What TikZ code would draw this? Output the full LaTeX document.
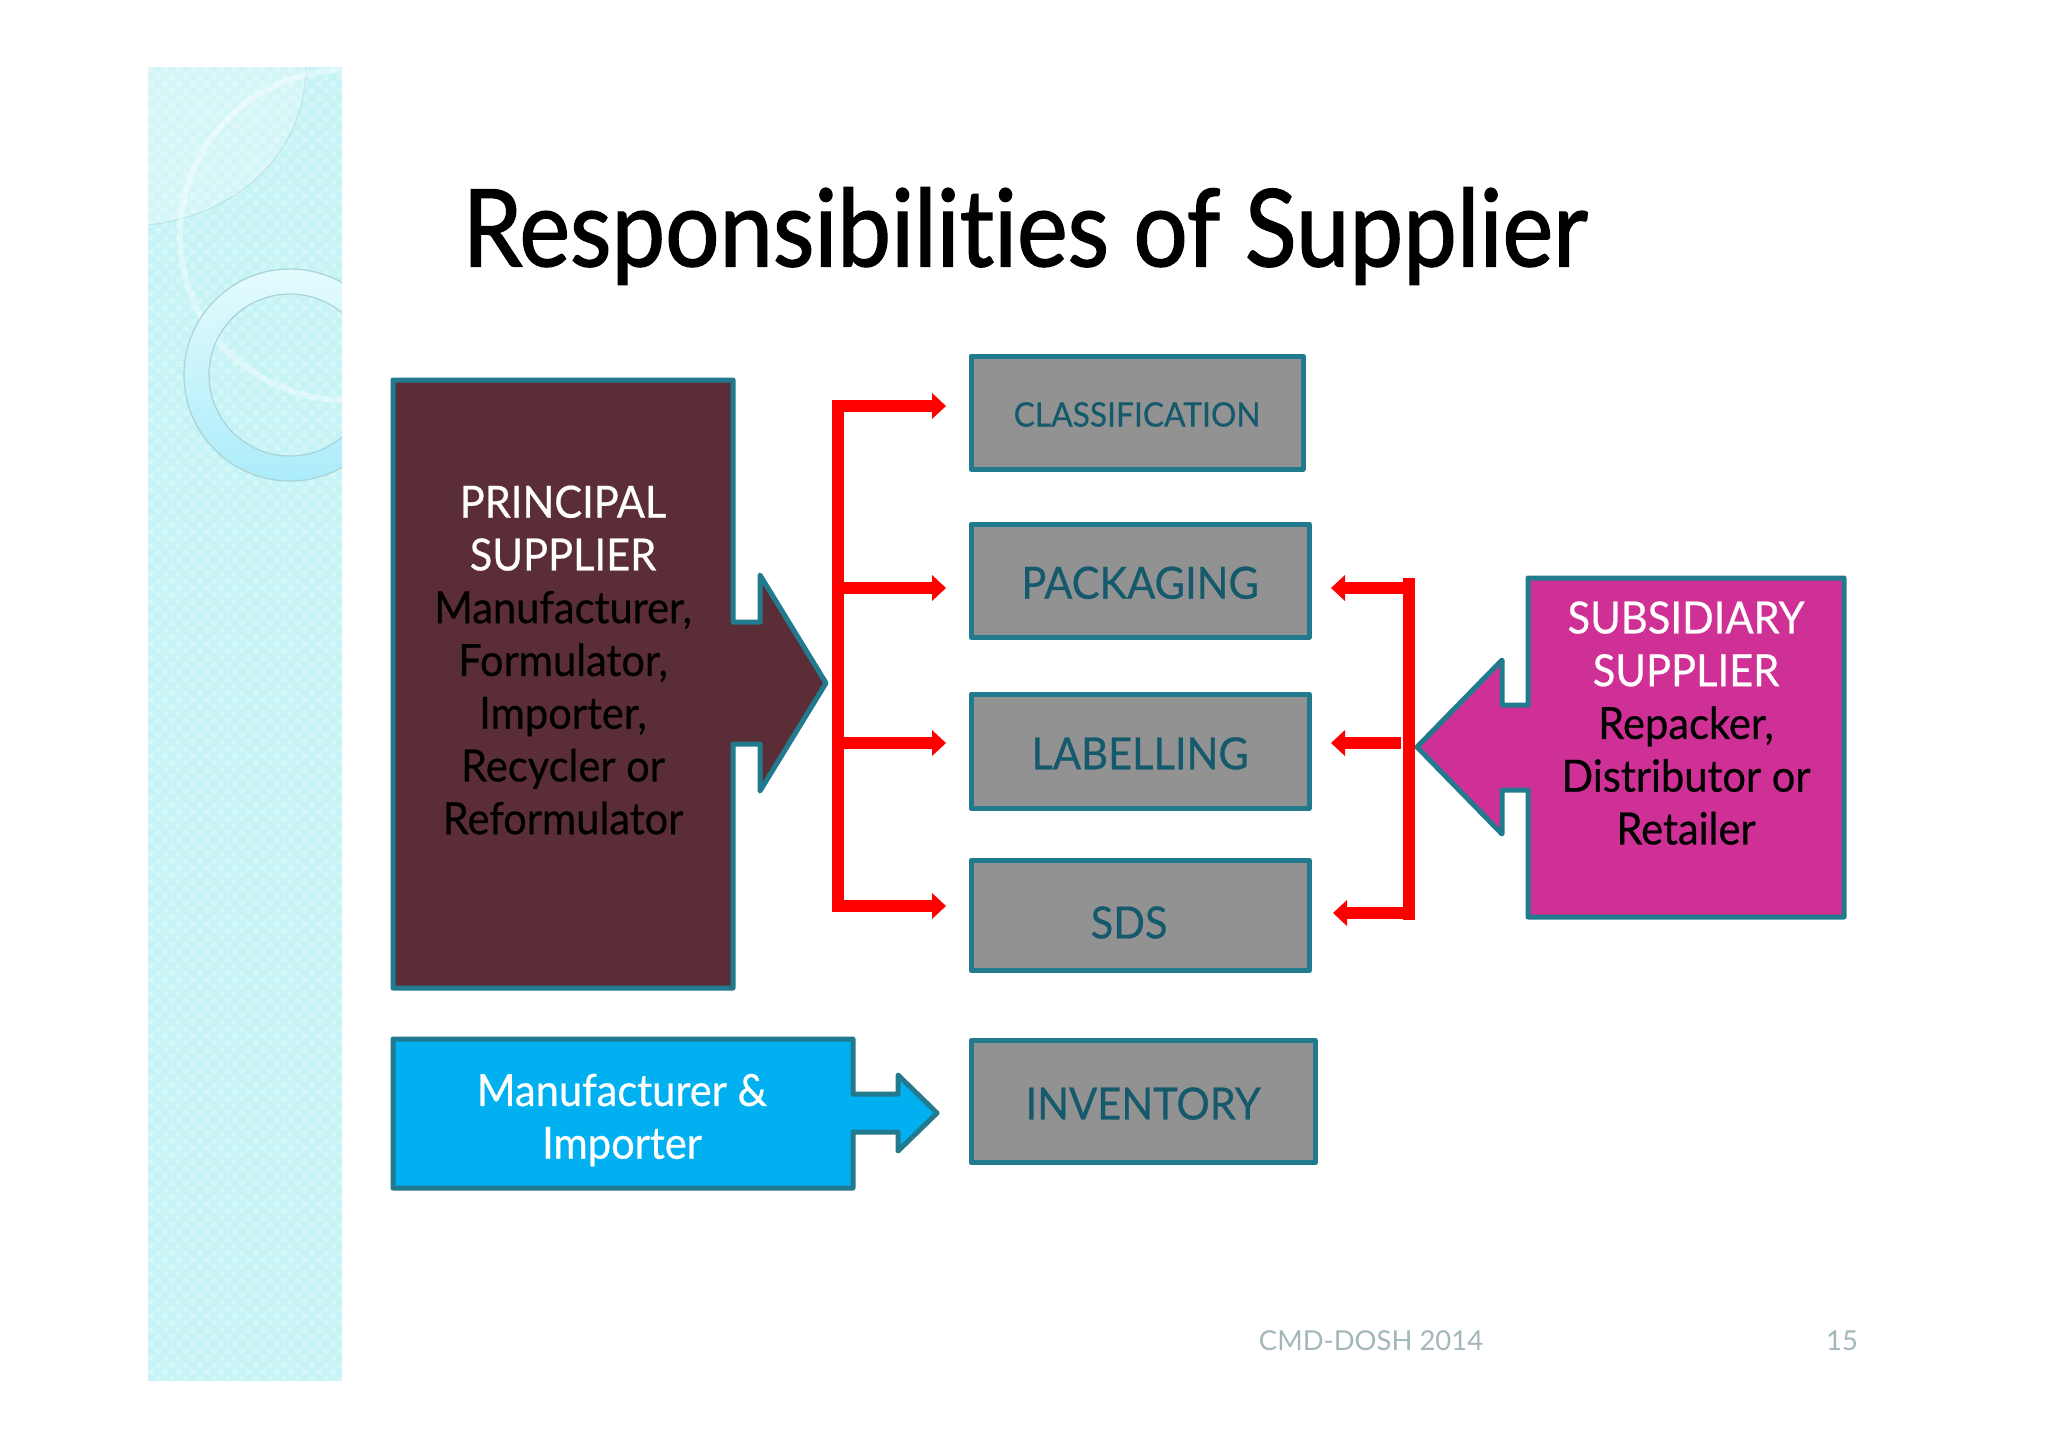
\documentclass[tikz,border=0pt]{standalone}
\usepackage{fontspec}
\setmainfont{Lato}[FakeStretch=0.94,FakeBold=0.5,Ligatures=NoCommon]
\newfontfamily\titlefont{Lato}[FakeStretch=0.893,FakeBold=1.3,Ligatures=NoCommon]
\newfontfamily\footfont{Lato}
\usetikzlibrary{positioning}

\definecolor{panelcyan}{HTML}{C6F3F5}
\definecolor{panellight}{HTML}{DFFAFA}
\definecolor{ringtop}{HTML}{E4FBFD}
\definecolor{ringbottom}{HTML}{ACECFA}
\definecolor{ringedge}{HTML}{A9D3D9}
\definecolor{tealedge}{HTML}{217A8E}
\definecolor{tealtext}{HTML}{14596C}
\definecolor{boxgrey}{HTML}{929292}
\definecolor{maroonfill}{HTML}{5A2D37}
\definecolor{magentafill}{HTML}{CF3095}
\definecolor{skyfill}{HTML}{00B0F0}
\definecolor{footgrey}{HTML}{A3B7BA}

\tikzset{
  outline/.style = { draw = tealedge, line width = .05cm, line join = round },
  block/.style = { align = center, font = \fontsize{12.6}{15}\selectfont, inner sep = 0pt },
  stepbox/.style = { outline, fill = boxgrey, text = tealtext, anchor = north west, outer sep = 0pt, inner sep = 0pt,
    font = \fontsize{12.6}{15}\selectfont, text height = .36cm, text depth = 0pt },
  bus/.style = { draw = red, line width = .12cm },
  branch/.style = { bus, shorten > = .12cm }
}
% arrowhead at the end of a red branch: macro takes tip coordinate and direction
\newcommand{\redhead}[2]{\fill [red, line join = round] (#1) -- ++(#2*-14,13) -- ++(0,-26) -- cycle;}

\begin{document}
\begin{tikzpicture}[x = .01cm, y = -.01cm]
  \useasboundingbox (0,0) rectangle (2048,1447);

  % side panel
  \begin{scope}
    \clip (148,67) rectangle (342,1381);
    \fill [panelcyan] (148,67) rectangle (342,1381);
    \foreach \row in {0,...,187} {
      \pgfmathsetmacro{\shift}{7*mod(\row,2)}
      \foreach \col in {0,...,13} {
        \fill [panellight, opacity = .55] (148+\col*14+\shift,67+\row*7) rectangle ++(6,6);
      }
    }
    \fill [white, opacity = .25] (148,67) -- (306,67) .. controls (306,150) and (240,215) .. (148,225) -- cycle;
    \draw [ringedge, opacity = .5, line width = .01cm] (306,67) .. controls (306,150) and (240,215) .. (148,225);
    \draw [white, opacity = .4, line width = .06cm] (345,235) circle (165);
    \shade [top color = ringtop, bottom color = ringbottom, even odd rule] (290,375) circle (106) (290,375) circle (81);
    \draw [ringedge, line width = .012cm] (290,375) circle (106) (290,375) circle (81);
  \end{scope}

  \node [font = \titlefont\fontsize{30.5}{36}\selectfont, inner sep = 0pt] (title) at (1025,236) { Responsibilities of Supplier };

  % left block with its arrow
  \draw [outline, fill = maroonfill] (393,380) -- (733,380) -- (733,622) -- (760,622) -- (760,575) -- (826,683) -- (760,791) -- (760,744) -- (733,744) -- (733,988) -- (393,988) -- cycle;
  \node [block, text = black] (principal) at (563,660) { \textcolor{white}{PRINCIPAL} \\ \textcolor{white}{SUPPLIER} \\ Manufacturer, \\ Formulator, \\ Importer, \\ Recycler or \\ Reformulator };

  % right block with its arrow
  \draw [outline, fill = magentafill] (1844,578) -- (1528,578) -- (1528,705) -- (1502,705) -- (1502,660) -- (1417,747) -- (1502,834) -- (1502,790) -- (1528,790) -- (1528,917) -- (1844,917) -- cycle;
  \node [block, text = black] (subsidiary) at (1686,723) { \textcolor{white}{SUBSIDIARY} \\ \textcolor{white}{SUPPLIER} \\ Repacker, \\ Distributor or \\ Retailer };

  % lower block with its arrow
  \draw [outline, fill = skyfill] (393,1039) -- (853,1039) -- (853,1094) -- (898,1094) -- (898,1075) -- (937,1113) -- (898,1151) -- (898,1132) -- (853,1132) -- (853,1188) -- (393,1188) -- cycle;
  \node [block, text = white] (manufacturer) at (622,1120) { Manufacturer \& \\ Importer };

  % grey steps
  \node [stepbox, minimum width = 3.32cm, minimum height = 1.13cm, font = \fontsize{9.6}{12}\selectfont, text height = .28cm] (classification) at (971,356) { CLASSIFICATION };
  \node [stepbox, minimum width = 3.38cm, minimum height = 1.13cm, below = .55cm of classification.south west, anchor = north west] (packaging) { PACKAGING };
  \node [stepbox, minimum width = 3.38cm, minimum height = 1.14cm, below = .57cm of packaging.south west, anchor = north west] (labelling) { LABELLING };
  \node [stepbox, minimum width = 3.38cm, minimum height = 1.10cm, text height = .46cm, below = .52cm of labelling.south west, anchor = north west] (sds) { SDS\hspace*{.22cm} };
  \node [stepbox, minimum width = 3.44cm, minimum height = 1.22cm, below = .70cm of sds.south west, anchor = north west] (inventory) { INVENTORY };

  % red branches on the left
  \coordinate (lefttop) at (838,400);
  \coordinate (leftbottom) at (838,912);
  \coordinate (lefta) at (838,406);
  \coordinate (leftb) at (838,588);
  \coordinate (leftc) at (838,743);
  \coordinate (leftd) at (838,906);
  \coordinate (tipa) at (946,406);
  \coordinate (tipb) at (946,588);
  \coordinate (tipc) at (946,743);
  \coordinate (tipd) at (946,906);
  \draw [bus] (lefttop) -- (leftbottom);
  \draw [branch] (lefta) -- (tipa);
  \draw [branch] (leftb) -- (tipb);
  \draw [branch] (leftc) -- (tipc);
  \draw [branch] (leftd) -- (tipd);
  \redhead{tipa}{1} \redhead{tipb}{1} \redhead{tipc}{1} \redhead{tipd}{1}

  % red branches on the right
  \coordinate (righttop) at (1409,578);
  \coordinate (rightbottom) at (1409,920);
  \coordinate (rightb) at (1409,588);
  \coordinate (rightc) at (1401,743);
  \coordinate (rightd) at (1409,913);
  \coordinate (tipe) at (1331,588);
  \coordinate (tipf) at (1331,743);
  \coordinate (tipg) at (1333,913);
  \draw [bus] (righttop) -- (rightbottom);
  \draw [branch] (rightb) -- (tipe);
  \draw [branch] (rightc) -- (tipf);
  \draw [branch] (rightd) -- (tipg);
  \redhead{tipe}{-1} \redhead{tipf}{-1} \redhead{tipg}{-1}

  % footer
  \node [text = footgrey, font = \footfont\fontsize{7.8}{10}\selectfont, inner sep = 0pt] (footer) at (1371,1341) { CMD-DOSH 2014 };
  \node [text = footgrey, font = \footfont\fontsize{7.8}{10}\selectfont, inner sep = 0pt] (pagenum) at (1842,1341) { 15 };
\end{tikzpicture}
\end{document}
